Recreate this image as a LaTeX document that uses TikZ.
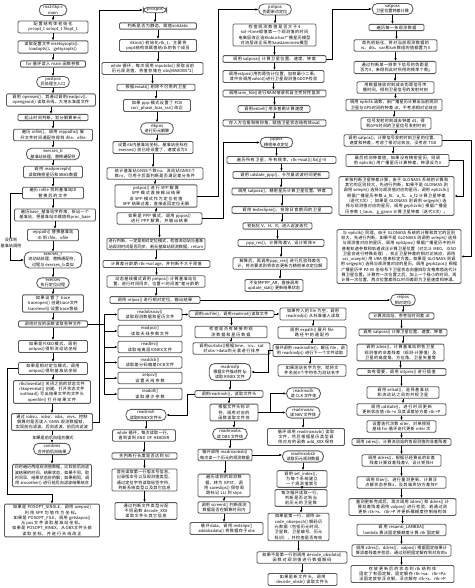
\documentclass[tikz,border=0pt]{standalone}
\usepackage{fontspec}
\setmainfont{Noto Sans CJK SC}
\XeTeXlinebreaklocale "zh"
\XeTeXlinebreakskip=0pt plus 0.5pt
\usetikzlibrary{arrows.meta}
\newcommand\fs{\fontsize{4.1}{5.3}\selectfont}
\tikzset{
 box/.style={draw=black!65, line width=0.85pt, rounded corners=1.2pt, fill=white, align=center, inner xsep=1.5pt, inner ysep=1.2pt, font=\fs},
 term/.style={draw=black!65, line width=0.85pt, rounded corners=5pt, fill=white, align=center, inner xsep=4pt, inner ysep=1.2pt, font=\fs},
 arr/.style={-{Latex[length=2.8pt,width=2.4pt]}, line width=0.6pt},
 ln/.style={line width=0.6pt},
 lab/.style={font=\fs, fill=white, inner sep=0.5pt, align=center}
}
\begin{document}
\begin{tikzpicture}[x=1pt,y=-1pt]
\fill[white] (0,0) rectangle (474,588);
\useasboundingbox (0,0) rectangle (474,588);
% ---------- column 1
\node[term] (T1) at (53,10) {rnx2rtkp.c\\main};
\node[box,text width=67pt] (B1) at (53,27) {配置结构体初始化\\prcopt\_t solopt\_t filopt\_t};
\node[box,text width=67pt] (B2) at (53,47) {读取配置文件resetsysopts()、\\loadopts()、getsysopts()};
\node[box,text width=62pt] (B3) at (53,64) {for 循环读入 main 函数参数};
\node[term] (T2) at (53,82) {postpos\\后处理主入口};
\node[box,text width=86pt] (B4) at (51,100) {调用 openses()，其通过调用readpcv()、opengeoid() 读取天线、大地水准面文件};
\node[box,text width=67pt] (B5) at (53,117.5) {起止时间判断，划分解算单元};
\node[box,text width=76pt] (B6) at (53,135) {遍历 infile[]，调用 reppaths() 展开文件时间通配符得到 ifile、ofile};
\node[term] (T3) at (53,154) {execses\_b\\基准站处理，替换通配符};
\node[box,text width=56pt] (B7) at (53,172) {调用 readpreceph()\\读取精密星历和SBAS数据};
\node[box,text width=58pt] (B8) at (53,193) {遍历 infile 找到基准站ID\\替换后的文件};
\node[box,text width=78pt] (B9) at (55,215) {遍历base\_基准站字符串，拆出一个基准站，把基准站ID赋值到proc\_base};
\node[box,text width=48pt] (B10) at (53,235) {reppath() 替换基准站\\ID 到 ifile、ofile};
\node[term] (T4) at (53,260) {execses\_r\\流动站处理，替换通配符，\\过程与 execses\_b 类似};
\node[term] (T5) at (53,283) {execses\\执行定位过程};
\node[box,text width=58pt] (B11) at (53,303.5) {如果设置了 trace\\traceopen() 创建trace文件\\tracelevel() 设置trace等级};
\node[box,text width=66pt] (B12) at (53,324) {调用对应的函数读取各种文件};
\node[box,text width=66pt] (B13) at (53,346.5) {如果是FIXED模式，调用\\antpos()得到流动站坐标};
\node[box,text width=66pt] (B14) at (53,368.5) {如果是相对定位模式，调用\\antpos()得到基准站坐标};
\node[box,text width=74pt] (B15) at (52,392) {rtkclosestat() 关闭之前的状态文件\\rtkopenstat() 创建、打开状态文件\\outhead() 写出结果文件的文件头\\openfile() 打开结果文件};
\node[box,text width=78pt] (B16) at (52,422) {通过 iobsu、iobsr、isbs、revs、控制解算时是否读入 GNSS 观测数据帧，实现前向滤波、后向滤波、前后向滤波};
\node[term] (T6) at (52,449) {combres\\合并前后向结果};
\node[box,text width=76pt] (B17) at (52,475.5) {同时遍历两组观测值数据，比较前后向滤波结果的时间、结果状态，如果不同，取时间早、结果状态好的解；如果相同，调用 smoother() 进行前后向滤波结果结合};
\node[box,text width=92pt] (B18) at (52,520.5) {如果是 POSOPT\_SINGLE，调用 avepos()\\利用 SPP 均值作为坐标。\\如果是 POSOPT\_FILE，调用 getstapos()\\从pos文件读取基准站坐标。\\如果是 POSOPT\_RINEX，从OBS文件头部\\读取坐标，并进行天线改正};
% ---------- column 2
\node[term] (T7) at (155,10) {procpos};
\node[box,text width=74pt] (B19) at (158,26) {判断是否为静态，赋值solstatic};
\node[box,text width=74pt] (B20) at (158,45.5) {rtkinit() 初始化rtk\_t，主要将\\popt结构体赋值给rtk的各个成员};
\node[box,text width=98pt] (B21) at (152.5,68.5) {while 循环，每次调用 inputobs() 获取当前历元观测值，将值存储在 obs[MAXOBS*2]};
\node[box,text width=75pt] (B22) at (156,87.5) {根据exsats[] 剔除不可用的卫星};
\node[box,text width=64pt] (B23) at (157,105.5) {如果 ppp 模式设置了 FCB\\corr\_phase\_bias\_ssr() 改正};
\node[term] (T8) at (157,128.5) {rtkpos\\进行历元解算};
\node[box,text width=77pt] (B24) at (153,147.5) {设置rtk内基准站坐标，基准站坐标在 execses() 前已经设置了，速度设为0};
\node[box,text width=93pt] (B25) at (155,173.5) {统计基准站GNSS个数nu、流动站GNSS个数nr，可用于后面判断是否满足差分条件};
\node[box,text width=79pt] (B26) at (156,196) {pntpos() 进行SPP解算\\SPP 模式直接输出结果\\非 SPP 模式作为定位初值\\SPP 结果过差，直接返回定位无解};
\node[box,text width=82pt] (B27) at (159.5,218.5) {如果是 PPP 模式，调用 pppos()\\进行 PPP 解算，并输出结果};
\node[box,text width=95pt] (B28) at (156,244) {进行判断，一定是相对定位模式，检查流动站与基准站观测时间是否同步，若无基准站观测数据，return};
\node[box,text width=104pt] (B29) at (156.5,264) {计算差分龄期 rtk->sol.age，并判断不大于限值};
\node[box,text width=95pt] (B30) at (156,281.5) {动态基线模式调用 pntpos() 计算基准站位置，进行时间同步，位置+=时间差*差分龄期};
\node[box,text width=87pt] (B31) at (155,300) {调用 relpos() 进行相对定位，输出结果};
\node[box,text width=61pt] (R1) at (150,314.5) {readobsnav()\\读取观测数据和星历文件};
\node[box,text width=61pt] (R2) at (150,331) {readpcv()\\读取天线参数文件};
\node[box,text width=61pt] (R3) at (150,347) {readtec()\\读取电离层IONEX文件};
\node[box,text width=61pt] (R4) at (150,362.5) {readdcb()\\读取差分码偏差DCB文件};
\node[box,text width=61pt] (R5) at (150,378) {setpcv()\\设置天线参数};
\node[box,text width=61pt] (R6) at (150,394) {readotl()\\读取潮汐参数};
\node[term] (T9) at (146,415) {readrnxh\\读取RINEX文件头};
\node[box,text width=60pt] (B32) at (144,435.5) {while 循环，每次读取一行，\\直到读到 END OF HEADER};
\node[box,text width=62pt] (B33) at (144.5,456) {先判断行长度是否达到 60};
\node[box,text width=62pt] (B34) at (144.5,480) {首先读取第一行版本号信息，记录版本号以及观测值类型，通过定位字符读取标签字符，判断系统类型以及其它信息};
\node[box,text width=59pt] (B35) at (146,511) {通过判断文件类型分配不同函数 decode\_XXX 读取文件头其它信息};
% ---------- column 3
\node[term] (T10) at (275,9.5) {pntpos\\伪距单点定位};
\node[box,text width=80pt] (P1) at (274.5,35) {检查观测数值是否大于4\\sol->time赋值第一个观测值的时间\\电离层改正选Klobuchar广播星历模型\\对流层改正采用Saastamoinen模型};
\node[box,text width=100pt] (P2) at (274.5,59) {调用 satposs() 计算卫星位置、速度、钟差};
\node[box,text width=98pt] (P3) at (273.5,76.5) {调用estpos()用伪距估计位置，加权最小二乘，其中会调用valsol()进行卫星观测值GDOP检验};
\node[box,text width=100pt] (P4) at (274.5,93.5) {调用raim\_fde()进行RAIM接收机自主完好性监测};
\node[box,text width=69pt] (P5) at (274,109) {调用estvel() 用多普勒计算速度};
\node[box,text width=100pt] (P6) at (274.5,123) {存入方位角和俯仰角，赋值卫星状态结构体ssat};
\node[term] (T11) at (276.5,142.5) {pppos\\精密单点定位};
\node[box,text width=106pt] (Q1) at (281.5,160) {遍历所有卫星，所有频率，rtk->ssat[i].fix[j]=0};
\node[box,text width=93pt] (Q2) at (281,175) {调用 udstate\_ppp()，卡尔曼滤波时间更新};
\node[box,text width=97pt] (Q3) at (282,191.5) {调用 satposs()，精密星历计算卫星位置、钟差};
\node[box,text width=97pt] (Q4) at (282,210) {调用 testeclipse()，排除日食期间的卫星};
\node[box,text width=66pt] (Q5) at (277.5,226) {初始化 V、H、R，进入滤波迭代};
\node[box,text width=83pt] (Q6) at (281,243) {ppp\_res()，计算残差V，设计矩阵H};
\node[box,text width=91pt] (Q7) at (280,263.5) {解算后，再调用ppp\_res() 进行后验残差估计，符合要求则将状态更新为精密单点定位解};
\node[box,text width=55pt] (Q8) at (274,285.5) {不支持PPP\_AR，直接调用\\update\_stat() 更新结果状态};
\node[box,text width=82pt] (F1) at (231.5,314) {调用uncfile()，调用readrnxt()读取文件};
\node[box,text width=69pt] (F2) at (231,332) {检查是否有链接的观测数据和星历数据};
\node[box,text width=74pt] (F3) at (231.5,348.5) {调用sortobs()根据time、rcv、sat\\对obs->data的元素进行排序};
\node[term] (T12) at (230,372) {readrnxfp\\根据文件描述符 fp\\读取 RINEX 文件};
\node[box,text width=65pt] (F4) at (229,394) {调用readrnxh()，读取文件头};
\node[box,text width=45pt] (F5) at (234,412.5) {根据文件头标识符，调用对应的函数读取文件体};
\node[term] (T13) at (230,434) {readrnxobs\\读 OBS 文件体};
\node[box,text width=51pt] (F6) at (225,455) {循环调用 readrnxobsb()\\每次读一个历元的观测数据};
\node[box,text width=49pt] (F7) at (224,485.5) {遍历读到的观测数据，转为 GPST，调用 saveslips() 保存周跳标记 LLI 到 slips};
\node[box,text width=49pt] (F8) at (224,507.5) {调用 screent() 判断观测数据是否在解算时间内};
\node[box,text width=70pt] (F9) at (226.5,528.5) {循环data，调用 restslips()\\addobsdata() 将数据存于obs};
\node[box,text width=63pt] (G1) at (313,314) {如果传入的 file 为空，调用 readrnxfp() 从标准输入读取};
\node[box,text width=65pt] (G2) at (312,332.5) {调用 expath() 展开 file\\路径中的通配符};
\node[box,text width=71pt] (G3) at (310,350.5) {循环调用 readrnxfile()，解压 file，调用 readrnxfp() 进行下一个文件读取};
\node[box,text width=65pt] (G4) at (312,370.5) {如果测站名字为空，就将文件名前4个字符作为测站名字};
\node[term] (T15) at (303.5,393.5) {readrnxclk\\读 CLK 文件体};
\node[term] (T16) at (303,412.5) {readrnxnav\\读 NAV 文件体};
\node[box,text width=74pt] (G5) at (306,437) {循环调用 readrnxnavb() 读取文件，然后根据星历类型调用对应的函数 add\_XXX 保存};
\node[term] (T14) at (303,456.5) {readrnxobsb\\读取历元观测数据};
\node[box,text width=47pt] (H1) at (302,479) {调用 set\_index()，为每个系统建立一个观测值索引};
\node[box,text width=49pt] (H2) at (301,498) {每次循环读取一行，判断是否达到当前历元的卫星数};
\node[box,text width=58pt] (H3) at (298.5,527) {如果是第一行，调用 decode\_obsepoch() 解码历元数据（包括历元时间、卫星数、卫星编号、历元标识），并检查是否有效};
\node[box,text width=87pt] (H4) at (302,557.5) {如果不是第一行则调用 decode\_obsdata() 函数对观测值进行数据解码};
\node[box,text width=66pt] (H5) at (302.5,579.5) {如果是新文件头，调用\\decode\_obsh() 读取文件头};
% ---------- column 4
\node[term] (T17) at (392.5,9) {satposs\\卫星位置钟差计算};
\node[box,text width=52pt] (S1) at (396.5,27.5) {遍历每一条观测数据};
\node[box,text width=80pt] (S2) at (395.5,45.5) {首先初始化，将对当前观测数据的 rs、dts、var和svh数组的值都置为0};
\node[box,text width=79pt] (S3) at (395,67.5) {通过判断某一频率下信号的伪距是否为0，来得到此时所用的频率个数j};
\node[box,text width=74pt] (S4) at (395.5,87.5) {用数据接收时刻减去伪距信号传播时间，得到卫星信号的发射时刻};
\node[box,text width=93pt] (S5) at (394,105) {调用 ephclk 函数，由广播星历计算出当前观测卫星与GPS时间的钟差 dt，不考虑相对论效应};
\node[box,text width=67pt] (S6) at (396,123.5) {信号发射时刻减去钟差 dt，得到GPS时间的卫星信号发射时刻};
\node[box,text width=95pt] (S7) at (393,140.5) {调用 satpos()，计算信号发射时刻卫星的位置、速度和钟差，考虑了相对论效应，没考虑 TGD};
\node[box,text width=100pt] (S8) at (397.5,160.5) {最后检测钟差值，如果没有精密星历，则调用 ephclk() 用广播星历计算钟差，钟漂设为0};
\node[box,text width=112pt] (S9) at (396.5,196) {单独判断卫星钟差计算，由于 GLONASS 系统的计算和其它的区别较大，先进行判断，如果不是 GLONASS 则调用 seleph() 选择与观测值对应的星历，调用 eph2clk() 根据广播星历参数 a\_f0、a\_f1、a\_f2 计算卫星钟差（迭代3次）；如果是 GLONASS 则调用 selgeph() 选择与观测值对应的星历，调用 geph2clk() 根据广播星历参数 t\_taun、g\_gamn 计算卫星钟差（迭代3次）。};
\node[box,text width=121pt] (S10) at (399,256.5) {与 ephclk() 同理，由于 GLONASS 系统的计算和其它的区别较大，先进行判断，如果不是 GLONASS 则调用 seleph() 选择与观测值对应的星历，调用 eph2pos() 根据广播星历中的开普勒轨道参数和轨道改正计算卫星位置（对北斗 MEO、IGSO 卫星会进行特殊处理），校正卫星钟差的相对论效应，调用 var\_uraeph() 用 URA 值来标定方差。如果是 GLONASS 则调用 selgeph() 选择与观测值对应的星历，调用 geph2pos() 根据广播星历中 PZ-90 坐标系下卫星状态向量四阶龙格库塔迭代计算卫星位置。计算完一次位置之后，加上一个极小的时间，再计算一次位置，两次位置差除以时间差即为卫星速度和钟漂。};
\node[term] (T18) at (403,300) {relpos\\相对定位};
\node[box,text width=62pt] (U1) at (401.5,316) {计算流动站、参考站时间差 dt};
\node[box,text width=85pt] (U2) at (403,332.5) {调用 satposs() 计算卫星位置、速度、钟差};
\node[box,text width=84pt] (U3) at (400.5,352.5) {调用 zdres()，计算基准站的各卫星观测值的非差残差（观测-计算值）及卫星的高度角、方位角、卫星矢量等};
\node[box,text width=86pt] (U4) at (401.5,372) {如有需要，调用 intpres() 进行插值};
\node[box,text width=69pt] (U5) at (403,392.5) {调用 selsat()，选择基准站和流动站之间的共视卫星};
\node[box,text width=86pt] (U6) at (401.5,409.5) {调用 udstate()，进行时间更新\\更新状态值 rtk->x 及其误差协方差 rtk->P};
\node[box,text width=66pt] (U7) at (401.5,426.5) {设置迭代次数 niter，对单频短基线 for 循环迭代更新 niter 次};
\node[box,text width=96pt] (U8) at (401.5,442) {调用 zdres()，计算流动站的各观测值的非差残差};
\node[box,text width=76pt] (U9) at (401.5,460.5) {调用 ddres()，根据已经算出的非差残差计算双差残差V，设计矩阵H};
\node[box,text width=86pt] (U10) at (401.5,482.5) {调用 filter()，进行量测更新，计算浮点解状态参数x，及其噪声协方差阵P};
\node[box,text width=104pt] (U11) at (402.5,507) {量测更新完成后，再次调用 zdres() 和 ddres() 计算双差残差调用 valpos() 进行检验，若通过则更新 rtk->x、rtk->P 并更新模糊度控制结构体};
\node[box,text width=86pt] (U12) at (401.5,530) {调用 resamb\_LAMBDA()\\lambda 算法固定模糊度计算 rtk 固定解};
\node[box,text width=96pt] (U13) at (401.5,550.5) {调用 zdres()、ddres()、valpos() 根据固定结果计算双差残差并检验，通过则把固定解存到对应的x};
\node[box,text width=100pt] (U14) at (402.5,574) {存放更新后的状态到 rtk 结构体\\固定了有固定解，固定解存 rtk->xa、rtk->Pa\\没固定就存浮点解，浮点解存 rtk->x、rtk->P};
% ---------- connectors
\foreach \a/\b in {T1/B1,B1/B2,B2/B3,B3/T2,T2/B4,B4/B5,B5/B6,B6/T3,T3/B7,B7/B8,B8/B9,B9/B10,B10/T4,T4/T5,T5/B11,B11/B12,B12/B13,B13/B14,B14/B15,B15/B16,B16/T6,T6/B17,
  T7/B19,B19/B20,B20/B21,B21/B22,B22/B23,B23/T8,T8/B24,B24/B25,B25/B26,B26/B27,B27/B28,B28/B29,B29/B30,B30/B31,
  T9/B32,B32/B33,B33/B34,B34/B35,
  T10/P1,P1/P2,P2/P3,P3/P4,P4/P5,P5/P6,
  T11/Q1,Q1/Q2,Q2/Q3,Q3/Q4,Q4/Q5,Q5/Q6,Q6/Q7,Q7/Q8,
  F1/F2,F2/F3,T12/F4,F4/F5,F5/T13,T13/F6,F6/F7,F7/F8,F8/F9,
  G1/G2,G2/G3,G3/G4,T16/G5,T14/H1,H1/H2,H2/H3,H3/H4,H4/H5,
  T17/S1,S1/S2,S2/S3,S3/S4,S4/S5,S5/S6,S6/S7,S7/S8,
  T18/U1,U1/U2,U2/U3,U3/U4,U4/U5,U5/U6,U6/U7,U7/U8,U8/U9,U9/U10,U10/U11,U11/U12,U12/U13,U13/U14}
  \draw[arr] (\a.south) -- (\a.south |- \b.north);
\node[lab] (L2) at (53,437.5) {如果是前后向组合模式};
\draw[arr] (B8.west) -- ++(-12,0) |- (T4.west);
\node[lab] (L1) at (11,243) {没找到\\基准站调用};
\draw[arr] (B14.west) -- (7,368.5) -- (7,494) -| (B18.north);
\draw[arr] (B16.east) -| (99,10) -- (T7.west);
\coordinate (bar) at (104,0);
\draw[ln] (B12.east) -- (B12.east -| bar);
\draw[ln] (R1.west -| bar) -- (R6.west -| bar);
\foreach \r in {R1,R2,R3,R4,R5,R6} \draw[arr] (\r.west -| bar) -- (\r.west);
\draw[arr] (B26.east) -- (218,196) |- (T10.west);
\draw[arr] (B27.east) -- (223,218.5) |- (T11.west);
\draw[arr] (B31.east) -- (B31.east -| T18.west);
\draw[arr] (R1.east) -- (R1.east -| F1.west);
\draw[arr] (F1.east) -- (F1.east -| G1.west);
\draw[arr] (G3.west) -- (268,350.5) |- (T12.east);
\draw[arr] (F4.west) -- (187,394) |- (T9.east);
\draw[arr] (F5.east) -- (F5.east -| T16.west);
\draw[arr] (270,412.5) |- (T15.west);
\draw[arr] (F6.east) -- (F6.east -| T14.west);
\draw[arr] (P2.east) -- (332,59) |- (T17.west);
\draw[arr] (S8.east) -- (463,160.5) |- (S9.east);
\draw[arr] (S7.east) -- (471,140.5) |- (S10.east);
\end{tikzpicture}
\end{document}
